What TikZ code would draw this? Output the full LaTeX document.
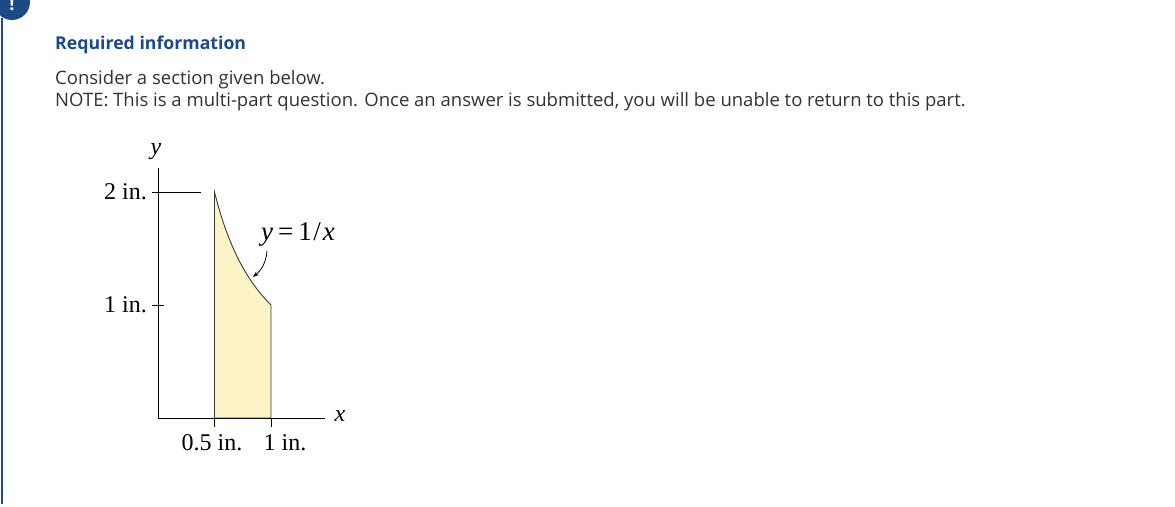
\documentclass[tikz,border=0pt]{standalone}
\usepackage{fontspec}
\setmainfont{Liberation Serif}
\newfontfamily\uifont{Open Sans}
\usetikzlibrary{arrows.meta}
\definecolor{navy}{HTML}{1C4A86}
\definecolor{bodytext}{HTML}{333333}
\definecolor{shade}{HTML}{FCF4C4}
\definecolor{curvecol}{HTML}{3A3A3A}
\tikzset{
  uitext/.style={anchor=base west, inner sep=0pt, font=\uifont\fontsize{18.5}{20}\selectfont, text=bodytext},
  titletext/.style={anchor=base west, inner sep=0pt, font=\uifont\bfseries\fontsize{17.7}{20}\selectfont, text=navy},
  figlabel/.style={inner sep=0pt, font=\fontsize{24}{26}\selectfont},
  axisline/.style={line width=0.9pt, black},
}
\begin{document}
\begin{tikzpicture}[x=1pt,y=-1pt]
\useasboundingbox (0,0) rectangle (1175,506);
\fill[white] (0,0) rectangle (1175,506);
% card border
\draw[navy, line width=2pt] (1.5,18) -- (1.5,504);
\fill[navy] (12,2) circle (18);
\node[inner sep=0pt, text=white, font=\uifont\bfseries\fontsize{18}{18}\selectfont] (bang) at (12,4) {!};
% texts
\node[titletext] (title) at (55,49) {Required information};
\node[uitext] (line1) at (55,84) {Consider a section given below.};
\node[uitext] (line2) at (55,106) {NOTE: This is a multi-part question. Once an answer is submitted, you will be unable to return to this part.};
% figure
\filldraw[fill=shade, draw=curvecol, line width=0.9pt]
  (214.5,418) -- plot[domain=0.5:1, samples=40] ({158+113*\x},{418-113/\x}) -- (271,418) -- cycle;
\draw[axisline] (158,168) -- (158,418) -- (325,418);
\draw[axisline] (152,192) -- (201,192);
\draw[axisline] (152,305) -- (164,305);
\draw[axisline] (214.5,418) -- (214.5,427);
\draw[axisline] (271,418) -- (271,427);
\node[figlabel, anchor=east] (l2) at (147,192) {2 in.};
\node[figlabel, anchor=east] (l1) at (147,305) {1 in.};
\node[figlabel, font=\itshape\fontsize{24}{26}\selectfont] (ylab) at (156,152) {y};
\node[figlabel, font=\itshape\fontsize{24}{26}\selectfont] (xlab) at (340,416) {x};
\node[figlabel] (lhalf) at (212,443) {0.5 in.};
\node[figlabel] (lone) at (285,443) {1 in.};
\node[figlabel, font=\fontsize{27}{29}\selectfont] (eq) at (298,234) {\textit{y}\hspace{5pt}=\hspace{5pt}1\hspace{1.5pt}/\hspace{2pt}\textit{x}};
\coordinate (tip) at (253,277);
\coordinate (start) at (267,251);
\draw[line width=0.8pt, -{Stealth[length=6pt,width=4.5pt]}] (start) to[out=-95, in=40] (tip);
\end{tikzpicture}
\end{document}
